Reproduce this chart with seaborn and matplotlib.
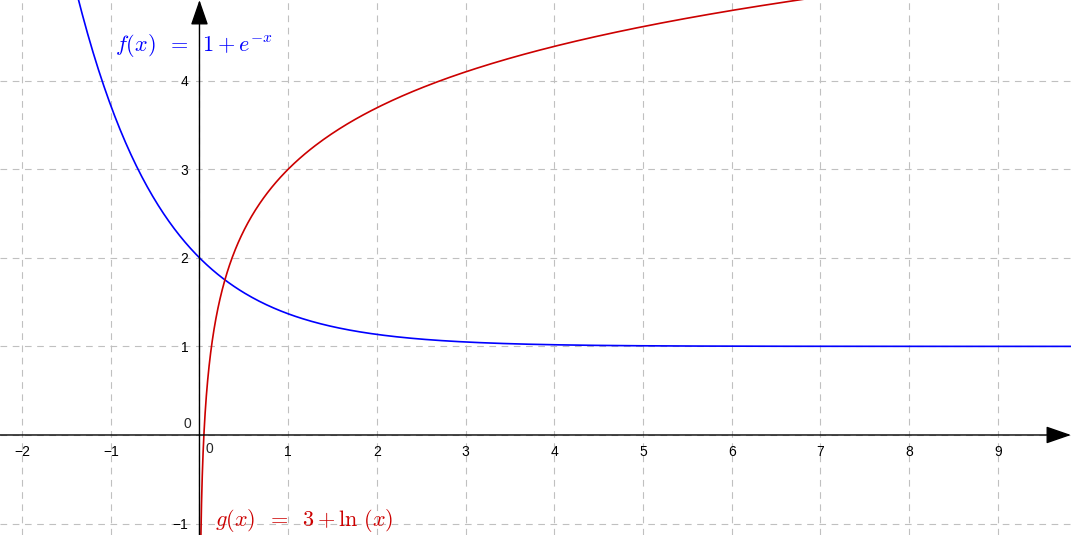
import numpy as np
import pandas as pd
import matplotlib
matplotlib.use("Agg")
import matplotlib.pyplot as plt
import seaborn as sns

# ---- data ----
x_ticks = [-2, -1, 0, 1, 2, 3, 4, 5, 6, 7, 8, 9]
y_ticks = [-1, 0, 1, 2, 3, 4]
x_tick_labels = ["\u22122", "\u22121", "", "1", "2", "3", "4", "5", "6", "7", "8", "9"]
y_tick_labels = ["\u22121", "", "1", "2", "3", "4"]
f_label = r"$f(x)\;\;=\;\;1+e^{-x}$"
g_label = r"$g(x)\;\;=\;\;3+\ln\,(x)$"

# curves shown in the chart: f(x) = 1 + e^(-x), g(x) = 3 + ln(x)
xf = np.linspace(-2.3, 9.9, 600)
yf = 1 + np.exp(-xf)
xg = np.concatenate([np.geomspace(0.012, 1, 300), np.linspace(1.01, 9.9, 300)])
yg = 3 + np.log(xg)
df_f = pd.DataFrame({"x": xf, "y": yf})
df_g = pd.DataFrame({"x": xg, "y": yg})

sns.set_style("white")
plt.rcParams["mathtext.fontset"] = "cm"
plt.rcParams["font.family"] = ["Liberation Sans", "DejaVu Sans"]

fig = plt.figure(figsize=(10.71, 5.35), dpi=100)
ax = fig.add_axes([0, 0, 1, 1])
xmin, xmax = -2.249, 9.826
ymin, ymax = -1.129, 4.91
ax.set_xlim(xmin, xmax)
ax.set_ylim(ymin, ymax)

# grid
ax.set_xticks(x_ticks)
ax.set_yticks(y_ticks)
ax.grid(True, color="#c0c0c0", linewidth=0.8, linestyle=(0, (6, 5)))
ax.set_axisbelow(True)

# curves
sns.lineplot(data=df_f, x="x", y="y", color="#0000ff", linewidth=1.2, ax=ax,
             sort=False, estimator=None)
sns.lineplot(data=df_g, x="x", y="y", color="#cc0000", linewidth=1.2, ax=ax,
             sort=False, estimator=None)
ax.set_xlabel("")
ax.set_ylabel("")

# axes through origin
for s in ["top", "right"]:
    ax.spines[s].set_visible(False)
ax.spines["left"].set_position(("data", 0))
ax.spines["bottom"].set_position(("data", 0))
ax.spines["left"].set_color("none")
ax.spines["bottom"].set_color("none")
ax.set_xticklabels(x_tick_labels)
ax.set_yticklabels(y_tick_labels)
ax.tick_params(axis="both", direction="out", length=3, width=0.8, color="black",
               labelsize=10, labelcolor="black")
ax.tick_params(axis="x", pad=4)
ax.tick_params(axis="y", pad=5)

arrow_kw = dict(arrowstyle="-|>,head_length=1.3,head_width=0.45", color="black",
                lw=1.0, mutation_scale=12, shrinkA=0, shrinkB=0)
ax.annotate("", xy=(xmax, 0), xytext=(xmin, 0), arrowprops=arrow_kw,
            annotation_clip=False)
ax.annotate("", xy=(0, ymax), xytext=(0, ymin), arrowprops=arrow_kw,
            annotation_clip=False)

# origin labels
ax.annotate("0", xy=(0, 0), xytext=(4, -5), textcoords="offset points",
            ha="left", va="top", fontsize=10)
ax.annotate("0", xy=(0, 0), xytext=(-6, 3), textcoords="offset points",
            ha="right", va="bottom", fontsize=10)

# function labels
ax.text(-0.95, 4.40, f_label, color="#0000ff", fontsize=16, ha="left", va="center")
ax.text(0.17, -0.97, g_label, color="#cc0000", fontsize=16, ha="left", va="center")

fig.savefig("out.png", dpi=100)
